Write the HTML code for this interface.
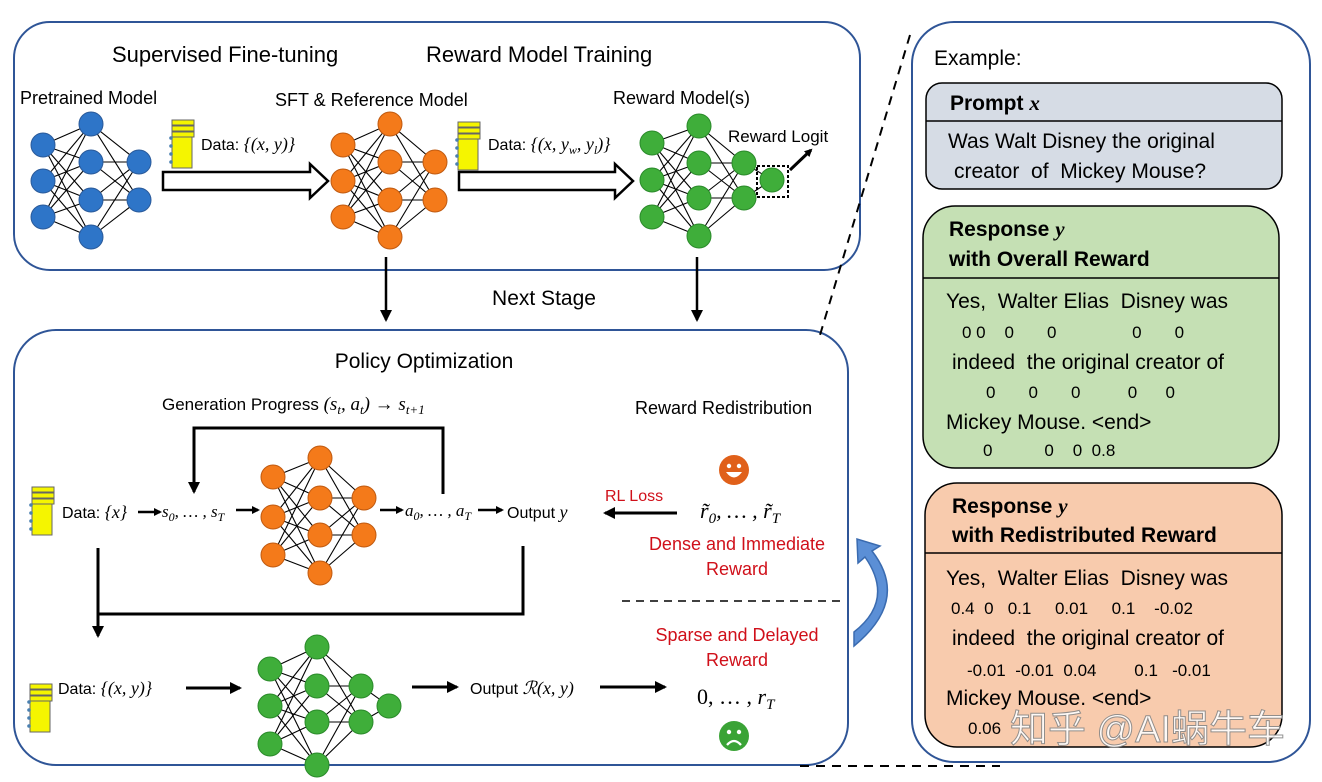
<!DOCTYPE html>
<html><head><meta charset="utf-8"><style>
html,body{margin:0;padding:0;background:#fff;}
svg{display:block;font-family:"Liberation Sans",sans-serif;}
.m{font-family:"Liberation Serif",serif;font-style:italic;}
</style></head><body>
<svg id="s" width="1322" height="782" viewBox="0 0 1322 782" xmlns="http://www.w3.org/2000/svg">
<defs>
<marker id="ah" markerWidth="8" markerHeight="8" refX="6" refY="4" orient="auto" markerUnits="userSpaceOnUse" viewBox="0 0 8 8"><path d="M0,0 L8,4 L0,8 z" fill="#000"/></marker>
<marker id="ah2" markerWidth="12" markerHeight="12" refX="10" refY="6" orient="auto" markerUnits="userSpaceOnUse"><path d="M0,0 L12,6 L0,12 z" fill="#000"/></marker>
</defs>
<rect x="14" y="22" width="846" height="248" rx="36" fill="none" stroke="#2f5597" stroke-width="2"/>
<rect x="14" y="330" width="834" height="435" rx="42" fill="none" stroke="#2f5597" stroke-width="2"/>
<rect x="912" y="22" width="398" height="740" rx="42" fill="none" stroke="#2f5597" stroke-width="2"/>
<line x1="910" y1="35" x2="820" y2="335" stroke="#000" stroke-width="2" stroke-dasharray="9,7"/>
<line x1="800" y1="766" x2="1000" y2="766" stroke="#000" stroke-width="2" stroke-dasharray="9,7"/>

<text x="112" y="62" font-size="22">Supervised Fine-tuning</text>
<text x="426" y="62" font-size="22">Reward Model Training</text>
<text x="20" y="104" font-size="18">Pretrained Model</text>
<text x="275" y="106" font-size="18">SFT &amp; Reference Model</text>
<text x="613" y="104" font-size="18">Reward Model(s)</text>
<text x="728" y="142" font-size="17">Reward Logit</text>

<g id="nets"></g>

<path d="M163,172 H310 V164 L328,181 L310,198 V190 H163 Z" fill="#fff" stroke="#000" stroke-width="2.5"/>
<path d="M459,172 H615 V164 L633,181 L615,198 V190 H459 Z" fill="#fff" stroke="#000" stroke-width="2.5"/>
<text x="201" y="150" font-size="16">Data: <tspan class="m" font-size="18">{(x, y)}</tspan></text>
<text x="488" y="150" font-size="16">Data: <tspan class="m" font-size="18">{(x, y<tspan font-size="12" dy="4">w</tspan><tspan dy="-4">, y</tspan><tspan font-size="12" dy="4">l</tspan><tspan dy="-4">)}</tspan></tspan></text>

<rect x="757" y="166" width="31" height="31" fill="none" stroke="#000" stroke-width="2" stroke-dasharray="3,2"/>
<line x1="790" y1="170" x2="811" y2="150" stroke="#000" stroke-width="3" marker-end="url(#ah)"/>

<line x1="386" y1="257" x2="386" y2="320" stroke="#000" stroke-width="2.5" marker-end="url(#ah2)"/>
<line x1="697" y1="257" x2="697" y2="320" stroke="#000" stroke-width="2.5" marker-end="url(#ah2)"/>
<text x="544" y="305" font-size="21" text-anchor="middle">Next Stage</text>

<text x="424" y="368" font-size="21" text-anchor="middle">Policy Optimization</text>
<text x="162" y="410" font-size="17">Generation Progress <tspan class="m" font-size="19">(s<tspan font-size="13" dy="4">t</tspan><tspan dy="-4">, a</tspan><tspan font-size="13" dy="4">t</tspan><tspan dy="-4">) → s</tspan><tspan font-size="13" dy="4">t+1</tspan></tspan></text>
<text x="635" y="414" font-size="18">Reward Redistribution</text>

<polyline points="443,494 443,428 194,428 194,492" fill="none" stroke="#000" stroke-width="3" marker-end="url(#ah2)"/>
<polyline points="98,548 98,614 523,614 523,546" fill="none" stroke="#000" stroke-width="3"/>
<line x1="98" y1="614" x2="98" y2="636" stroke="#000" stroke-width="3" marker-end="url(#ah2)"/>

<text x="62" y="518" font-size="16">Data: <tspan class="m" font-size="18">{x}</tspan></text>
<line x1="138" y1="512" x2="160" y2="512" stroke="#000" stroke-width="2.5" marker-end="url(#ah)"/>
<text x="162" y="517" class="m" font-size="17">s<tspan font-size="12" dy="4">0</tspan><tspan dy="-4">, … , s</tspan><tspan font-size="12" dy="4">T</tspan></text>
<line x1="236" y1="510" x2="258" y2="510" stroke="#000" stroke-width="2.5" marker-end="url(#ah)"/>
<line x1="380" y1="510" x2="402" y2="510" stroke="#000" stroke-width="2.5" marker-end="url(#ah)"/>
<text x="405" y="516" class="m" font-size="17">a<tspan font-size="12" dy="4">0</tspan><tspan dy="-4">, … , a</tspan><tspan font-size="12" dy="4">T</tspan></text>
<line x1="478" y1="510" x2="502" y2="510" stroke="#000" stroke-width="2.5" marker-end="url(#ah)"/>
<text x="507" y="518" font-size="16">Output <tspan class="m" font-size="18">y</tspan></text>

<text x="605" y="501" font-size="16" fill="#d0101a">RL Loss</text>
<line x1="677" y1="513" x2="605" y2="513" stroke="#000" stroke-width="3" marker-end="url(#ah2)"/>
<text x="700" y="518" class="m" font-size="22">r̃<tspan font-size="15" dy="5">0</tspan><tspan dy="-5">, … , r̃</tspan><tspan font-size="15" dy="5">T</tspan></text>
<text x="737" y="550" font-size="18" fill="#d0101a" text-anchor="middle">Dense and Immediate</text>
<text x="737" y="575" font-size="18" fill="#d0101a" text-anchor="middle">Reward</text>
<line x1="622" y1="601" x2="845" y2="601" stroke="#000" stroke-width="1.5" stroke-dasharray="8,6"/>
<text x="737" y="641" font-size="18" fill="#d0101a" text-anchor="middle">Sparse and Delayed</text>
<text x="737" y="666" font-size="18" fill="#d0101a" text-anchor="middle">Reward</text>

<text x="58" y="694" font-size="16">Data: <tspan class="m" font-size="18">{(x, y)}</tspan></text>
<line x1="186" y1="688" x2="240" y2="688" stroke="#000" stroke-width="3" marker-end="url(#ah2)"/>
<line x1="412" y1="687" x2="457" y2="687" stroke="#000" stroke-width="3" marker-end="url(#ah2)"/>
<text x="470" y="694" font-size="16">Output <tspan class="m" font-size="18">ℛ(x, y)</tspan></text>
<line x1="600" y1="687" x2="665" y2="687" stroke="#000" stroke-width="3" marker-end="url(#ah2)"/>
<text x="697" y="704" class="m" font-size="22"><tspan font-style="normal">0, … , </tspan>r<tspan font-size="15" dy="5">T</tspan></text>

<g transform="translate(734,470)"><circle r="15" fill="#e0601a"/><circle cx="-5" cy="-4" r="2.2" fill="#fff"/><circle cx="5" cy="-4" r="2.2" fill="#fff"/><path d="M-8,2 Q0,13 8,2 Z" fill="#fff"/></g>
<g transform="translate(734,736)"><circle r="15" fill="#3aa336"/><circle cx="-5" cy="-4" r="2.2" fill="#fff"/><circle cx="5" cy="-4" r="2.2" fill="#fff"/><path d="M-7,9 Q0,1 7,9" fill="none" stroke="#fff" stroke-width="2.2"/></g>

<path d="M854,646 Q910,600 872,551 L880,546 L857,539 L858,563 L865,557 Q895,600 854,632 Z" fill="#5b8fd6" stroke="#3a6bb0" stroke-width="1.5"/>

<text x="934" y="65" font-size="21">Example:</text>
<rect x="926" y="83" width="356" height="106" rx="16" fill="#d6dce5" stroke="#000" stroke-width="1.5"/>
<line x1="926" y1="121" x2="1282" y2="121" stroke="#000" stroke-width="1.5"/>
<text x="950" y="110" font-size="21" font-weight="bold">Prompt <tspan class="m" font-weight="bold">x</tspan></text>
<text x="948" y="148" font-size="21">Was Walt Disney the original</text>
<text x="954" y="178" font-size="21">creator&#160; of&#160; Mickey Mouse?</text>

<rect x="923" y="206" width="356" height="262" rx="32" fill="#c5e0b4" stroke="#000" stroke-width="1.5"/>
<line x1="923" y1="278" x2="1279" y2="278" stroke="#000" stroke-width="1.5"/>
<text x="949" y="236" font-size="21" font-weight="bold">Response <tspan class="m">y</tspan></text>
<text x="949" y="266" font-size="21" font-weight="bold">with Overall Reward</text>
<g font-size="21"><text x="946" y="308">Yes,&#160; Walter Elias&#160; Disney was</text>
<text x="952" y="369">indeed&#160; the original creator of</text>
<text x="946" y="429">Mickey Mouse. &lt;end&gt;</text></g>
<g font-size="17"><text x="962" y="338" xml:space="preserve">0 0    0       0                0       0</text>
<text x="986" y="398" xml:space="preserve">0       0       0          0      0</text>
<text x="983" y="456" xml:space="preserve">0           0    0  0.8</text></g>

<rect x="925" y="483" width="357" height="264" rx="32" fill="#f8cbad" stroke="#000" stroke-width="1.5"/>
<line x1="925" y1="553" x2="1282" y2="553" stroke="#000" stroke-width="1.5"/>
<text x="952" y="513" font-size="21" font-weight="bold">Response <tspan class="m">y</tspan></text>
<text x="952" y="542" font-size="21" font-weight="bold">with Redistributed Reward</text>
<g font-size="21"><text x="946" y="585">Yes,&#160; Walter Elias&#160; Disney was</text>
<text x="952" y="645">indeed&#160; the original creator of</text>
<text x="946" y="705">Mickey Mouse. &lt;end&gt;</text></g>
<g font-size="17"><text x="951" y="614" xml:space="preserve">0.4  0   0.1     0.01     0.1    -0.02</text>
<text x="967" y="676" xml:space="preserve">-0.01  -0.01  0.04        0.1   -0.01</text>
<text x="968" y="734">0.06</text></g>
<text x="1010" y="742" font-size="38" fill="#fff" stroke="#888" stroke-width="1" opacity="0.9" font-family="'Liberation Sans','Noto Sans CJK SC',sans-serif">知乎 @AI蜗牛车</text>
</svg>
<script>
var NS="http://www.w3.org/2000/svg",g=document.getElementById("nets");
function el(t,a){var e=document.createElementNS(NS,t);for(var k in a)e.setAttribute(k,a[k]);g.appendChild(e);return e;}
function net(layers,fill,stroke){
 for(var i=0;i<layers.length-1;i++){var A=layers[i],B=layers[i+1];
  A.ys.forEach(function(y1){B.ys.forEach(function(y2){el("line",{x1:A.x,y1:y1,x2:B.x,y2:y2,stroke:"#000","stroke-width":1.1});});});}
 layers.forEach(function(L){L.ys.forEach(function(y){el("ellipse",{cx:L.x,cy:y,rx:12,ry:12,fill:fill,stroke:stroke,"stroke-width":1});});});
}
function icon(x,y){
 el("rect",{x:x,y:y+14,width:20,height:34,fill:"#f5f500",stroke:"#666","stroke-width":1});
 for(var i=0;i<3;i++)el("rect",{x:x,y:y+i*6,width:22,height:5,fill:"#f5f500",stroke:"#666","stroke-width":1});
 for(var j=0;j<4;j++)el("circle",{cx:x-1,cy:y+18+j*8,r:1.8,fill:"#4a80b0"});
}
var B="#2e75c8",O="#f47a1a",G="#3fae3a";
net([{x:43,ys:[145,181,217]},{x:91,ys:[124,162,200,237]},{x:139,ys:[162,200]}],B,"#2a5a9a");
net([{x:343,ys:[145,181,217]},{x:390,ys:[124,162,200,237]},{x:435,ys:[162,200]}],O,"#c05a10");
net([{x:652,ys:[143,180,217]},{x:699,ys:[126,163,198,236]},{x:744,ys:[163,198]},{x:772,ys:[180]}],G,"#2a8a2a");
net([{x:273,ys:[477,517,555]},{x:320,ys:[458,498,535,573]},{x:364,ys:[498,535]}],O,"#c05a10");
net([{x:270,ys:[669,706,744]},{x:317,ys:[647,686,722,765]},{x:361,ys:[686,722]},{x:389,ys:[706]}],G,"#2a8a2a");
icon(172,120);icon(458,122);icon(32,487);icon(30,684);
</script>
</body></html>
